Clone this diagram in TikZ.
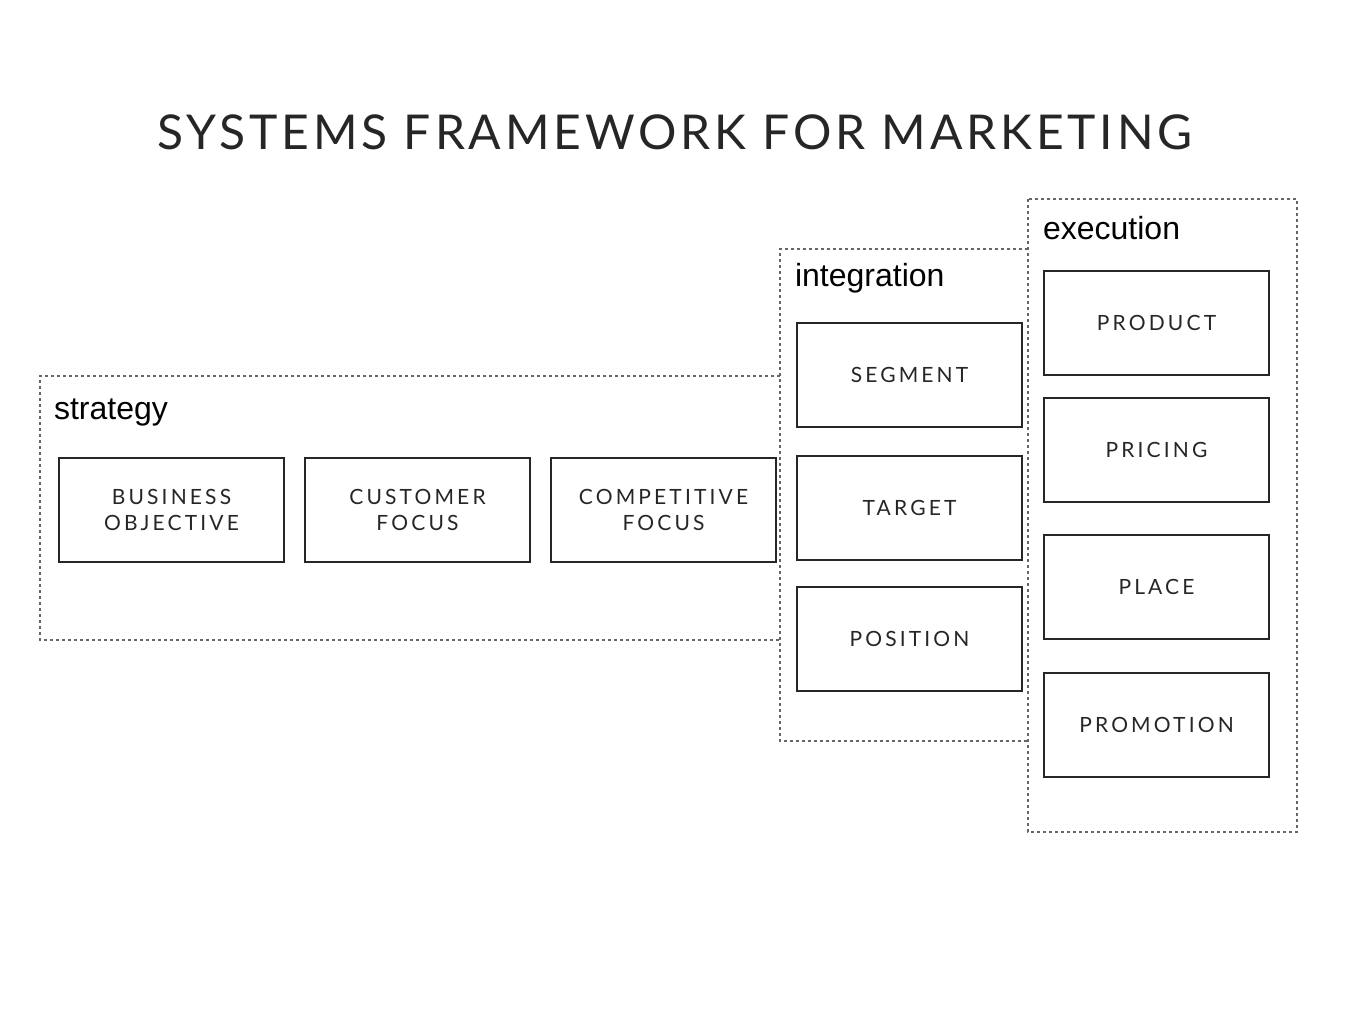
\documentclass[tikz,border=0pt]{standalone}
\usepackage{fontspec}
\setmainfont{Liberation Sans}
\newfontfamily\gill[LetterSpace=15]{Lato}
\newfontfamily\gilltitle[LetterSpace=8]{Lato}
\begin{document}
\begin{tikzpicture}[x=0.5pt,y=-0.5pt,
  grp/.style={draw=gray!80!black,line width=1.1pt,dash pattern=on 1.5pt off 1.5pt},
  box/.style={draw=black!85,line width=0.6pt},
  lbl/.style={font=\gill\fontsize{10.5}{13}\selectfont,align=center,text=black!85},
  glab/.style={anchor=west,font=\fontsize{16}{18}\selectfont}]
\useasboundingbox (0,0) rectangle (1358,1019);
\node[font=\gilltitle\fontsize{24}{28}\selectfont,text=black!85] (title) at (675,132) {SYSTEMS FRAMEWORK FOR MARKETING};
\draw[grp] (780,376) -- (40,376) -- (40,640) -- (780,640);
\draw[grp] (1028,249) -- (780,249) -- (780,741) -- (1028,741);
\draw[grp] (1028,199) rectangle (1297,832);
\node[glab] (ls) at (47,412) {strategy};
\node[glab] (li) at (788,278) {integration};
\node[glab] (le) at (1036,228) {execution};
\foreach \n/\x/\y/\t in {a/59/458/BUSINESS\\OBJECTIVE, b/305/458/CUSTOMER\\FOCUS, c/551/458/COMPETITIVE\\FOCUS,
  d/797/323/SEGMENT, e/797/456/TARGET, f/797/587/POSITION,
  g/1044/271/PRODUCT, h/1044/398/PRICING, i/1044/535/PLACE, j/1044/673/PROMOTION}{
  \draw[box] (\x,\y) rectangle ++(225,104);
  \node[lbl] (\n) at (\x+112.5,\y+52) {\t};
}
\end{tikzpicture}
\end{document}
